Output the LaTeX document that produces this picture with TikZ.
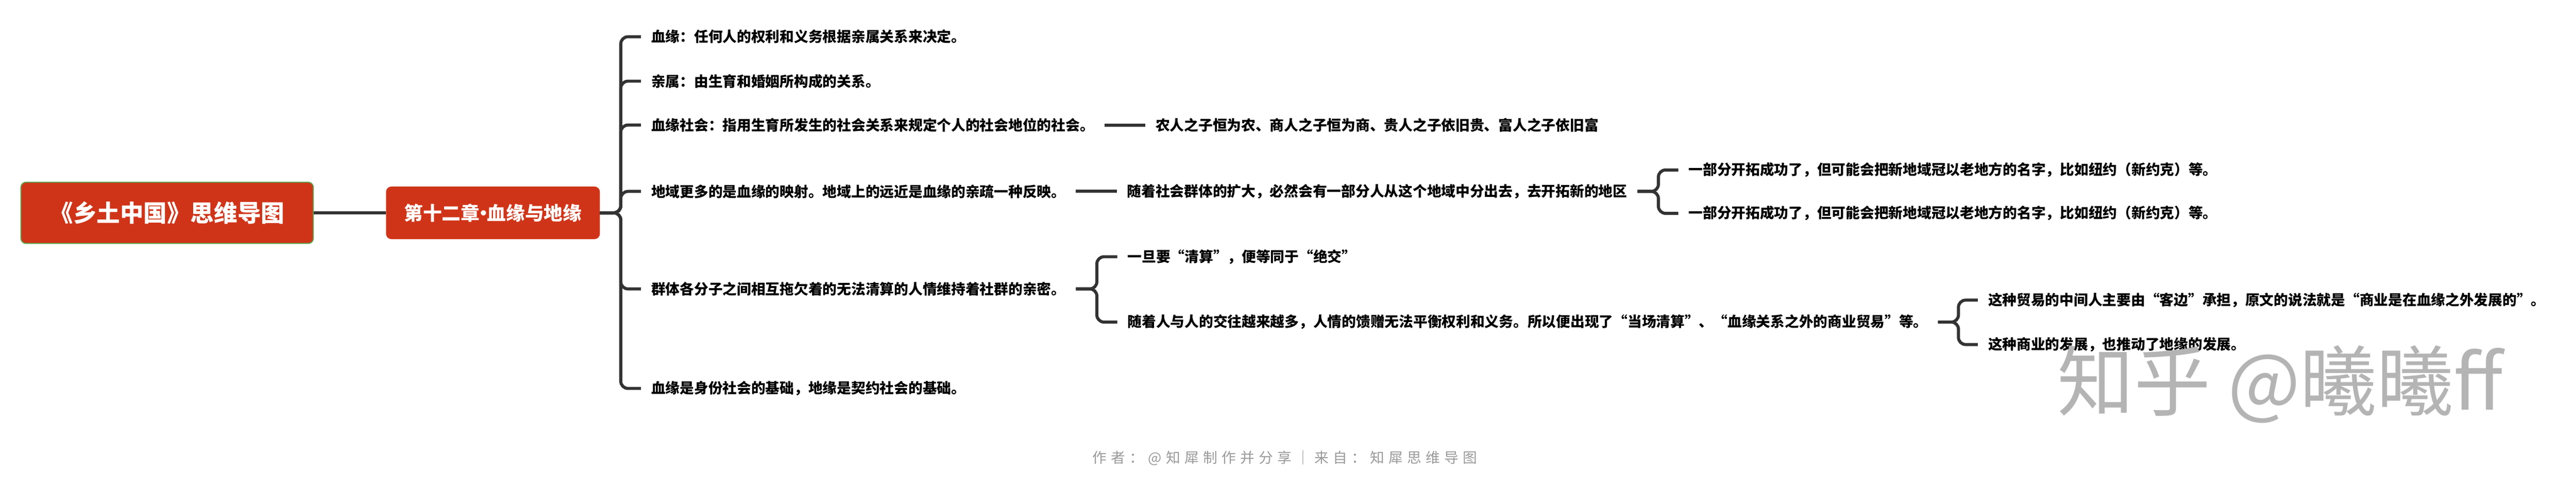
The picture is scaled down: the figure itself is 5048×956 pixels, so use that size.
\documentclass[tikz,border=0pt]{standalone}
\usepackage{fontspec}
\setmainfont{Noto Sans CJK SC}
\newfontfamily\footfont{Noto Sans CJK SC}[LetterSpace=30]
\usetikzlibrary{calc}
\definecolor{rootred}{HTML}{D03418}
\definecolor{rootgreen}{HTML}{5BA34A}
\definecolor{linegray}{HTML}{333333}
\definecolor{footgray}{HTML}{9A9A9A}
\definecolor{wmgray}{HTML}{B4B4B4}
\begin{document}
\begin{tikzpicture}[x=1pt,y=-1pt,
  conn/.style={draw=linegray, line width=6pt, rounded corners=14pt},
  item/.style={anchor=west, inner xsep=20pt, inner ysep=3pt, text=black,
    font=\fontsize{28pt}{34pt}\selectfont\bfseries},
  rootbox/.style={fill=rootred, draw=rootgreen, line width=2pt, rounded corners=10pt,
    minimum width=573pt, minimum height=120pt, text=white,
    font=\fontsize{46pt}{54pt}\selectfont\bfseries},
  chapbox/.style={fill=rootred, draw=rootred, line width=1pt, rounded corners=10pt,
    minimum width=418pt, minimum height=102pt, text=white,
    font=\fontsize{37pt}{44pt}\selectfont\bfseries}
]
\useasboundingbox[fill=white] (0,0) rectangle (5048,956);

\node[rootbox] (root) at (327.5,417) {《乡土中国》思维导图};
\node[chapbox] (ch) at (966,417) {第十二章\makebox[0.4em]{•}血缘与地缘};
\draw[conn] (root.east) -- (ch.west);

% level 1
\node[item] (a1) at (1256,72) {血缘：任何人的权利和义务根据亲属关系来决定。};
\node[item] (a2) at (1256,159) {亲属：由生育和婚姻所构成的关系。};
\node[item] (a3) at (1256,245) {血缘社会：指用生育所发生的社会关系来规定个人的社会地位的社会。};
\node[item] (a4) at (1256,375) {地域更多的是血缘的映射。地域上的远近是血缘的亲疏一种反映。};
\node[item] (a5) at (1256,566) {群体各分子之间相互拖欠着的无法清算的人情维持着社群的亲密。};
\node[item] (a6) at (1256,761) {血缘是身份社会的基础，地缘是契约社会的基础。};
\foreach \c in {a1,a2,a3,a4,a5,a6}
  \draw[conn] (ch.east) -- ++(41,0) |- (\c.west);

% level 2
\node[item] (b3) at ($(a3.east)+(80,0)$) {农人之子恒为农、商人之子恒为商、贵人之子依旧贵、富人之子依旧富};
\draw[conn] (a3.east) -- (b3.west);
\node[item] (b4) at ($(a4.east)+(80,0)$) {随着社会群体的扩大，必然会有一部分人从这个地域中分出去，去开拓新的地区};
\draw[conn] (a4.east) -- (b4.west);

\node[item] (c41) at ($(b4.east)+(80,-42)$) {一部分开拓成功了，但可能会把新地域冠以老地方的名字，比如纽约（新约克）等。};
\node[item] (c42) at ($(b4.east)+(80,43)$) {一部分开拓成功了，但可能会把新地域冠以老地方的名字，比如纽约（新约克）等。};
\foreach \c in {c41,c42}
  \draw[conn] (b4.east) -- ++(41,0) |- (\c.west);

\node[item] (b51) at ($(a5.east)+(81,-63)$) {一旦要“清算”，便等同于“绝交”};
\node[item] (b52) at ($(a5.east)+(81,65)$) {随着人与人的交往越来越多，人情的馈赠无法平衡权利和义务。所以便出现了“当场清算”、“血缘关系之外的商业贸易”等。};
\foreach \c in {b51,b52}
  \draw[conn] (a5.east) -- ++(41,0) |- (\c.west);

\node[item] (c521) at ($(b52.east)+(78,-43)$) {这种贸易的中间人主要由“客边”承担，原文的说法就是“商业是在血缘之外发展的”。};
\node[item] (c522) at ($(b52.east)+(78,44)$) {这种商业的发展，也推动了地缘的发展。};
\foreach \c in {c521,c522}
  \draw[conn] (b52.east) -- ++(40,0) |- (\c.west);

% footer
\node[text=footgray, font=\footfont\fontsize{28pt}{34pt}\selectfont] (foot) at (2518,897) {作者：@知犀制作并分享｜来自：知犀思维导图};

% watermark
\node[anchor=west, inner sep=0pt, text=wmgray, font=\fontsize{150pt}{160pt}\selectfont] (wm) at (4032,753) {知乎 @曦曦ff};
\end{tikzpicture}
\end{document}
